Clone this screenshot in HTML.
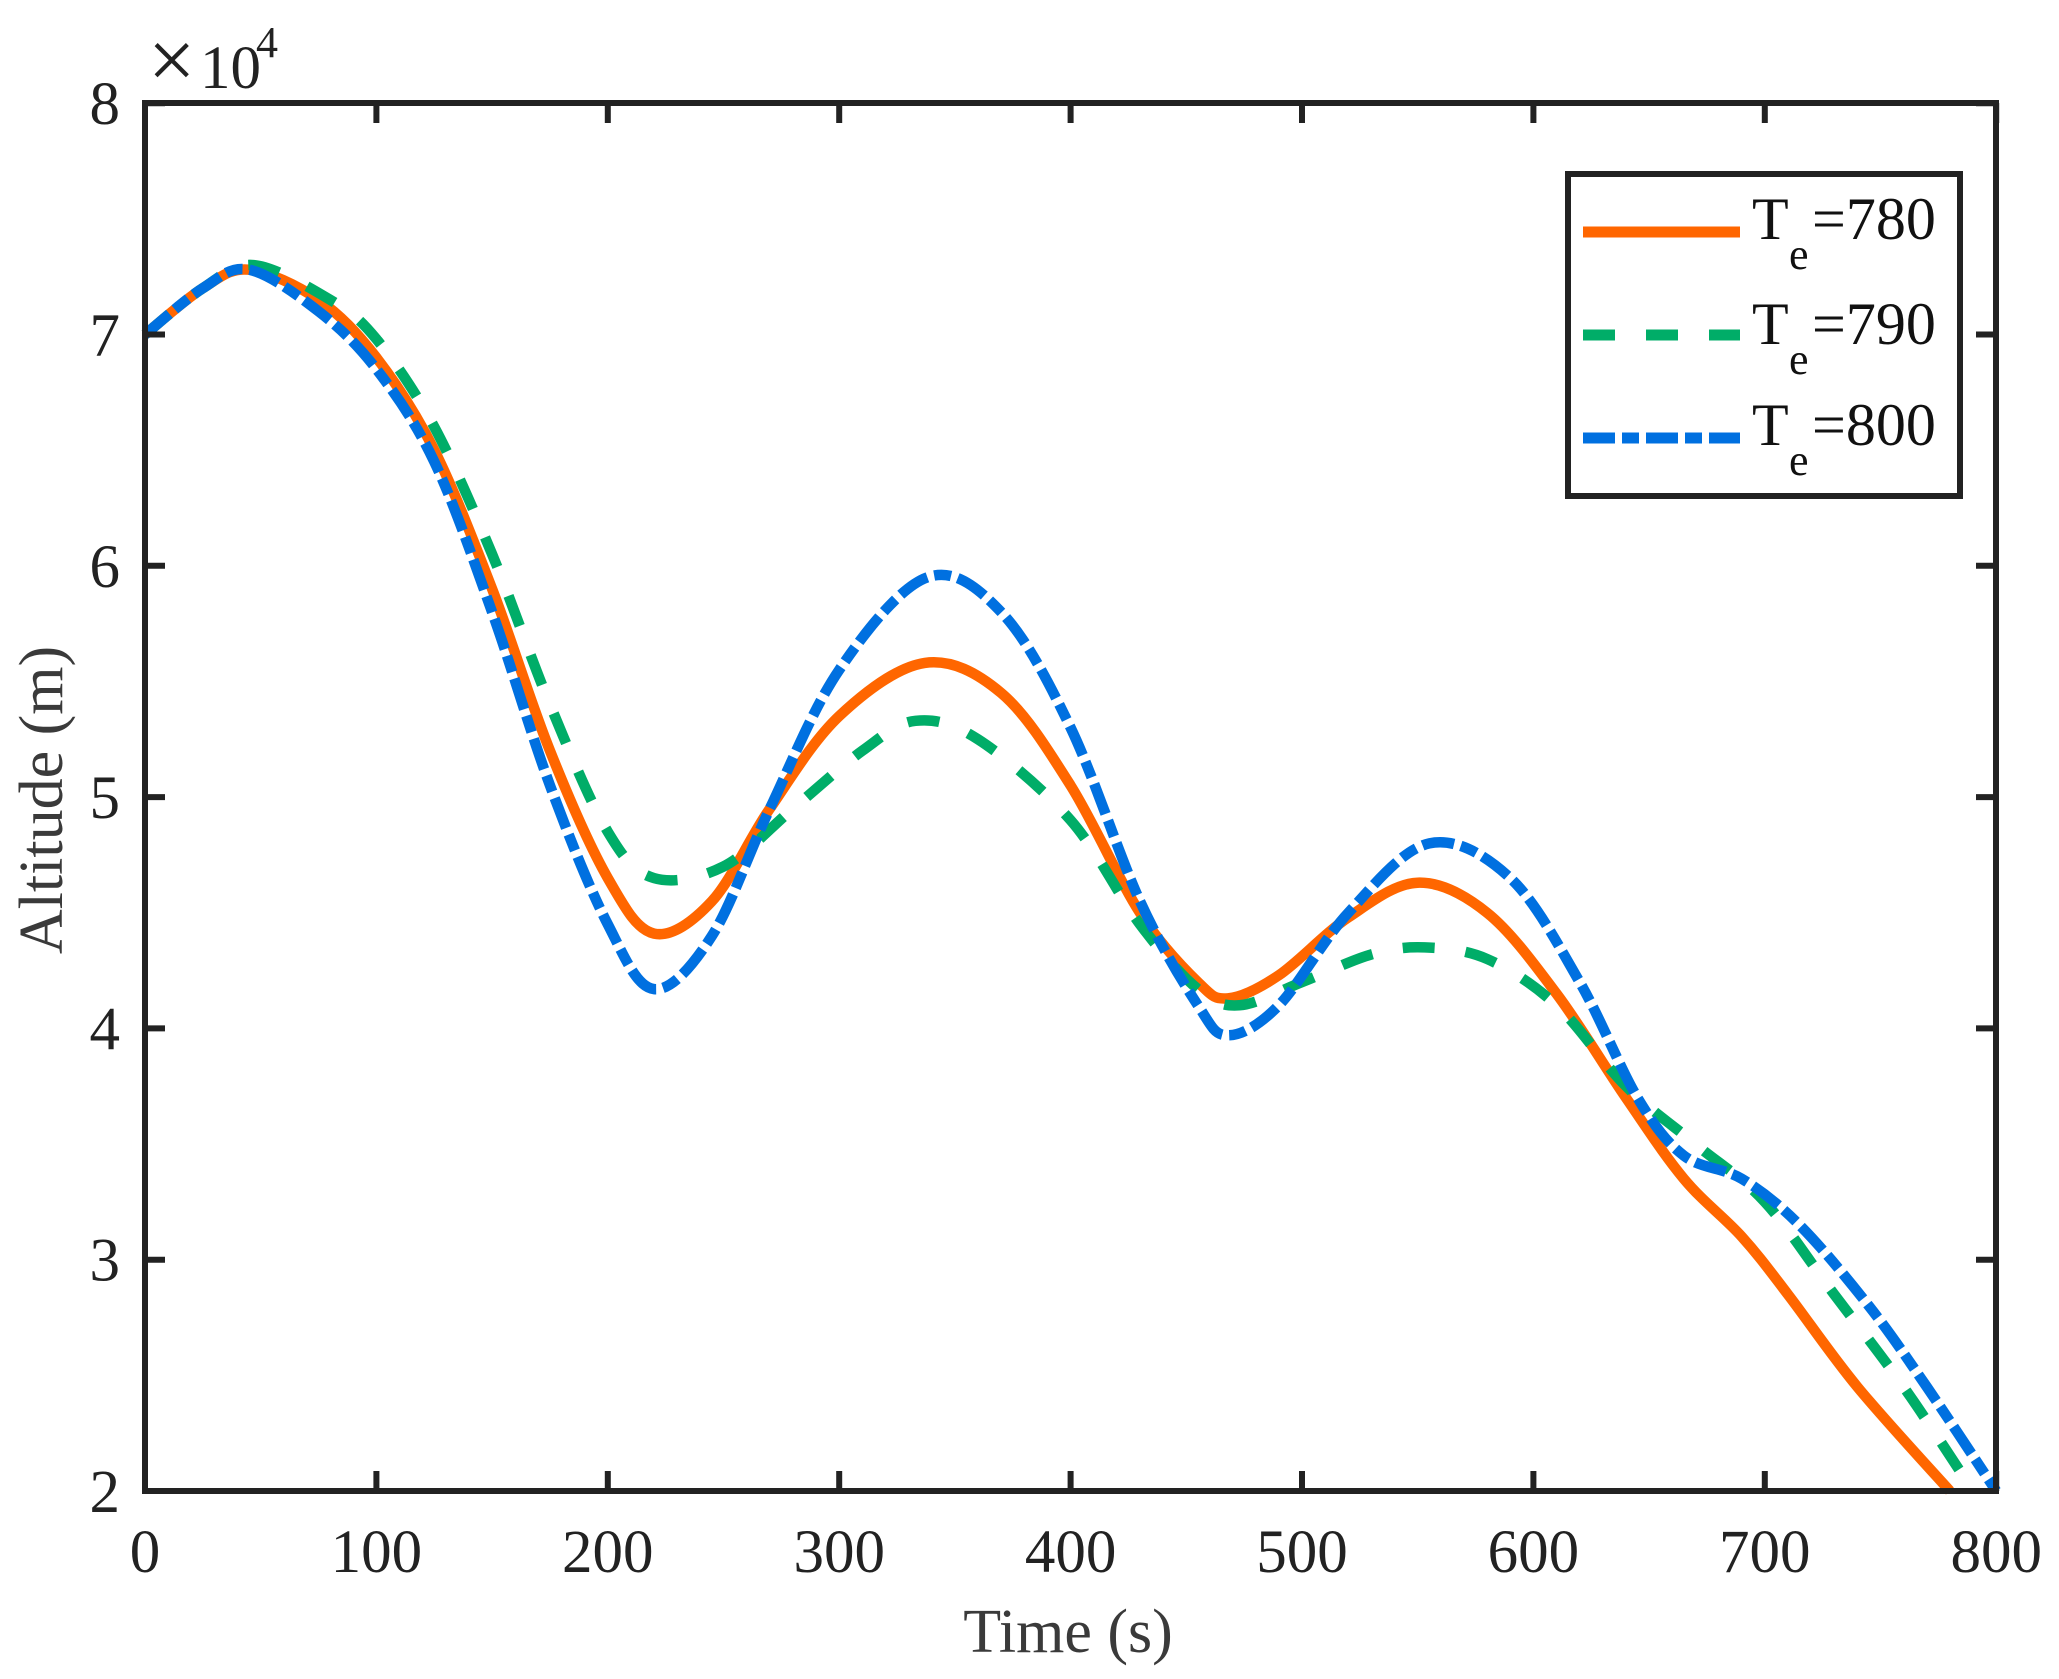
<!DOCTYPE html>
<html><head><meta charset="utf-8"><style>
html,body{margin:0;padding:0;background:#fff;}
svg{display:block;font-family:"Liberation Serif",serif;}
</style></head><body>
<svg id="s" width="2059" height="1679" viewBox="0 0 2059 1679" xmlns="http://www.w3.org/2000/svg">
<rect width="2059" height="1679" fill="#fff"/>
<g id="curves" fill="none" stroke-width="10.5"></g>
<g id="axes" stroke="#222" stroke-width="6" fill="none">
<rect x="145" y="103" width="1851" height="1388"/>
</g>
<g id="ticks" stroke="#222" stroke-width="6"></g>
<g id="labels" fill="#222" font-size="61"></g>
<text x="148" y="88" font-size="84" fill="#222">×</text>
<text x="200" y="88" font-size="61" fill="#222">10</text>
<text x="256" y="57" font-size="44" fill="#222">4</text>
<text transform="translate(62,800) rotate(-90)" text-anchor="middle" font-size="62" fill="#3a3a3a">Altitude (m)</text>
<text x="1068" y="1652" text-anchor="middle" font-size="62" fill="#3a3a3a">Time (s)</text>
<g>
<rect x="1568" y="174" width="392" height="322" fill="#fff" stroke="#222" stroke-width="6"/>
<line x1="1583" y1="232" x2="1740" y2="232" stroke="#ff6600" stroke-width="11"/>
<line x1="1583" y1="335" x2="1740" y2="335" stroke="#00ad68" stroke-width="11" stroke-dasharray="32 31"/>
<line x1="1583" y1="438" x2="1740" y2="438" stroke="#0070e0" stroke-width="11" stroke-dasharray="32 7 17 7"/>
<g font-size="60" fill="#111">
<text x="1752" y="239">T</text><text x="1789" y="269" font-size="44">e</text><text x="1812" y="239">=780</text>
<text x="1752" y="344">T</text><text x="1789" y="374" font-size="44">e</text><text x="1812" y="344">=790</text>
<text x="1752" y="445">T</text><text x="1789" y="475" font-size="44">e</text><text x="1812" y="445">=800</text>
</g>
</g>
</svg>
<script>
var NS="http://www.w3.org/2000/svg";
function X(t){return 145+t*2.314;}
function Y(a){return 1491-(a-20000)*0.02313;}
function path(pts){
 var p=pts.map(function(q){return [X(q[0]),Y(q[1])];});
 var d="M"+p[0][0].toFixed(1)+","+p[0][1].toFixed(1);
 for(var i=0;i<p.length-1;i++){
  var p0=p[i-1]||p[i],p1=p[i],p2=p[i+1],p3=p[i+2]||p[i+1];
  var c1=[p1[0]+(p2[0]-p0[0])/6,p1[1]+(p2[1]-p0[1])/6];
  var c2=[p2[0]-(p3[0]-p1[0])/6,p2[1]-(p3[1]-p1[1])/6];
  d+="C"+c1[0].toFixed(1)+","+c1[1].toFixed(1)+" "+c2[0].toFixed(1)+","+c2[1].toFixed(1)+" "+p2[0].toFixed(1)+","+p2[1].toFixed(1);
 }
 return d;
}
var O=[[0,70000],[25,72000],[45,72800],[75,71500],[100,69000],[125,65000],[150,59000],[175,52000],[200,46500],[220,44100],[245,45500],[270,49500],[300,53500],[337,55800],[370,54500],[400,50500],[430,45000],[455,42000],[468,41300],[490,42300],[520,44800],[550,46300],[580,45000],[610,41500],[640,37000],[665,33500],[690,31000],[710,28500],[740,24500],[780,20000]];
var G=[[0,70000],[25,72000],[47,73000],[80,71500],[100,69800],[125,66000],[150,60500],[175,54000],[200,48500],[220,46500],[250,47000],[280,49500],[310,52000],[333,53300],[360,52500],[400,49000],[430,44500],[455,41700],[473,41000],[500,42000],[530,43200],[553,43500],[580,43000],[610,41000],[640,37500],[670,35000],[700,32500],[730,28500],[760,24500],[790,20000]];
var B=[[0,70000],[25,72000],[45,72800],[75,71000],[100,68500],[125,64500],[150,58000],[175,50500],[200,44500],[220,41700],[245,44000],[270,49500],[300,55500],[338,59500],[370,58000],[400,53000],[430,45500],[455,41000],[468,39700],[490,41000],[520,45000],[555,48000],[590,46500],[620,42000],[645,37000],[665,34500],[690,33500],[715,31500],[745,28000],[770,24500],[800,20000]];
var cg=document.getElementById("curves");
[[O,"#ff6600",""],[G,"#00ad68","32 31"],[B,"#0070e0","32 7 17 7"]].forEach(function(s){
 var e=document.createElementNS(NS,"path");e.setAttribute("d",path(s[0]));e.setAttribute("stroke",s[1]);
 if(s[2])e.setAttribute("stroke-dasharray",s[2]);cg.appendChild(e);
});
var tg=document.getElementById("ticks"),lg=document.getElementById("labels");
function ln(x1,y1,x2,y2){var e=document.createElementNS(NS,"line");e.setAttribute("x1",x1);e.setAttribute("y1",y1);e.setAttribute("x2",x2);e.setAttribute("y2",y2);tg.appendChild(e);}
function tx(x,y,s,a){var e=document.createElementNS(NS,"text");e.setAttribute("x",x);e.setAttribute("y",y);e.setAttribute("text-anchor",a);e.textContent=s;lg.appendChild(e);}
for(var t=0;t<=800;t+=100){var x=X(t);ln(x,1491,x,1471);ln(x,103,x,123);tx(x,1572,String(t),"middle");}
for(var v=2;v<=8;v++){var y=Y(v*10000);ln(145,y,165,y);ln(1996,y,1976,y);tx(120,y+21,String(v),"end");}
</script>
</body></html>
